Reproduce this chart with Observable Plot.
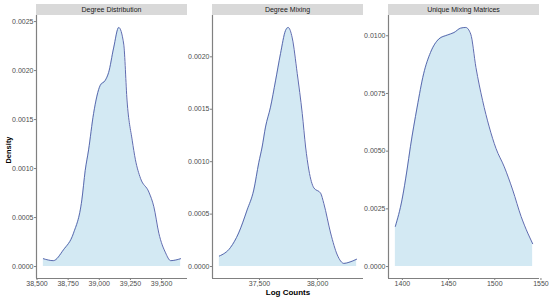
<!DOCTYPE html>
<html>
<head>
<meta charset="utf-8">
<script src="https://cdn.jsdelivr.net/npm/d3@7"></script>
<script src="https://cdn.jsdelivr.net/npm/@observablehq/plot@0.6"></script>
<style>
  html, body { margin: 0; padding: 0; background: #fff; }
  #chart { position: relative; width: 550px; height: 298px; font-family: "Liberation Sans", Arial, sans-serif; }
  .strip { position: absolute; top: 4px; height: 11px; background: #d9d9d9; font-size: 7px; line-height: 11px; text-align: center; color: #1a1a1a; }
  .panel { position: absolute; top: 0; }
  .ylab { position: absolute; left: 8px; top: 150px; transform: translate(-50%, -50%) rotate(-90deg); font-weight: bold; font-size: 7.5px; color: #000; white-space: nowrap; }
  .xlab { position: absolute; left: 288px; top: 288px; transform: translateX(-50%); font-weight: bold; font-size: 8px; color: #000; white-space: nowrap; }
</style>
</head>
<body>
<div id="chart"></div>
<script>
// Panel titles
const panelTitles = ["Degree Distribution", "Degree Mixing", "Unique Mixing Matrices"];

// Degree Distribution density curve
const ddX = [38551, 38631, 38712, 38793, 38860, 38887, 38914, 38954, 39008, 39048, 39075, 39115, 39156, 39196, 39223, 39264, 39290, 39331, 39398, 39438, 39478, 39532, 39573, 39653];
const ddY = [0.00008, 0.00006, 0.00017, 0.00034, 0.00068, 0.00098, 0.00119, 0.00156, 0.00185, 0.00190, 0.00198, 0.00223, 0.00244, 0.00227, 0.00169, 0.00129, 0.00109, 0.00090, 0.00076, 0.00061, 0.00034, 0.00014, 0.00006, 0.00008];

// Degree Mixing density curve
const dmX = [37155, 37250, 37321, 37394, 37451, 37494, 37523, 37552, 37595, 37638, 37681, 37724, 37747, 37782, 37825, 37868, 37897, 37925, 37968, 38026, 38054, 38112, 38170, 38227, 38270, 38336];
const dmY = [0.00010, 0.00018, 0.00032, 0.00054, 0.00073, 0.00099, 0.00114, 0.00133, 0.00152, 0.00177, 0.00203, 0.00225, 0.00228, 0.00218, 0.00184, 0.00146, 0.00114, 0.00092, 0.00075, 0.00070, 0.00060, 0.00032, 0.00011, 0.00003, 0.00004, 0.00007];

// Unique Mixing Matrices density curve
const umX = [1392.4, 1399.6, 1405, 1408.7, 1416, 1423, 1430.5, 1439.5, 1448.6, 1455.9, 1463, 1468.6, 1474, 1479.6, 1486.8, 1494, 1501.3, 1510.3, 1519.4, 1528.5, 1535.7, 1541];
const umY = [0.00174, 0.00289, 0.00418, 0.00519, 0.00691, 0.00835, 0.00928, 0.00986, 0.01003, 0.01014, 0.01033, 0.01036, 0.01007, 0.00863, 0.00720, 0.00605, 0.00512, 0.00432, 0.00332, 0.00217, 0.00145, 0.00099];

// Tick values
const ddXTicks = [38500, 38750, 39000, 39250, 39500];
const ddYTicks = [0, 0.0005, 0.0010, 0.0015, 0.0020, 0.0025];
const dmXTicks = [37500, 38000];
const dmYTicks = [0, 0.0005, 0.0010, 0.0015, 0.0020];
const umXTicks = [1400, 1450, 1500, 1550];
const umYTicks = [0, 0.0025, 0.0050, 0.0075, 0.0100];

const xLabel = "Log Counts";
const yLabel = "Density";

const chart = document.getElementById("chart");
const FILL = "#d3e9f3";
const STROKE = "#4c5aa6";
const AXIS = "#808080";

function expand(lo, hi, f) { const d = (hi - lo) * f; return [lo - d, hi + d]; }

function panel(cfg) {
  const data = cfg.xs.map((x, i) => ({x, y: cfg.ys[i]}));
  const xDom = expand(d3.min(cfg.xs), d3.max(cfg.xs), 0.05);
  const yMax = d3.max(cfg.ys);
  const yDom = [-yMax * 0.05, yMax * 1.05];
  const plotW = 151;
  const width = cfg.ml + plotW + cfg.mr;
  const p = Plot.plot({
    width, height: 298,
    marginLeft: cfg.ml, marginRight: cfg.mr, marginTop: 15, marginBottom: 20,
    style: {fontFamily: "Liberation Sans, Arial, sans-serif", fontSize: "7px", color: "#4d4d4d", background: "transparent", overflow: "visible"},
    x: {domain: xDom, ticks: cfg.xTicks, tickFormat: cfg.xFmt, label: null},
    y: {domain: yDom, ticks: cfg.yTicks, tickFormat: d3.format(".4f"), label: null},
    marks: [
      Plot.areaY(data, {x: "x", y: "y", fill: FILL, curve: "monotone-x"}),
      Plot.lineY(data, {x: "x", y: "y", stroke: STROKE, strokeWidth: 0.9, curve: "monotone-x"}),
      Plot.axisX({ticks: cfg.xTicks, tickFormat: cfg.xFmt, tickSize: 2, tickPadding: 1, stroke: AXIS, fill: "#4d4d4d", label: null}),
      Plot.axisY({ticks: cfg.yTicks, tickFormat: d3.format(".4f"), tickSize: 2, tickPadding: 1, stroke: AXIS, fill: "#4d4d4d", label: null}),
      Plot.ruleX([xDom[0]], {stroke: AXIS, strokeWidth: 1.2}),
      Plot.ruleY([yDom[0]], {stroke: AXIS, strokeWidth: 1.2})
    ]
  });
  p.classList.add("panel");
  p.style.left = (cfg.axisX - cfg.ml) + "px";
  chart.appendChild(p);
  const s = document.createElement("div");
  s.className = "strip";
  s.style.left = cfg.axisX + "px";
  s.style.width = plotW + "px";
  s.textContent = cfg.title;
  chart.appendChild(s);
}

panel({title: panelTitles[0], xs: ddX, ys: ddY, xTicks: ddXTicks, yTicks: ddYTicks, xFmt: d3.format(","), axisX: 36, ml: 36, mr: 3});
panel({title: panelTitles[1], xs: dmX, ys: dmY, xTicks: dmXTicks, yTicks: dmYTicks, xFmt: d3.format(","), axisX: 212, ml: 24, mr: 3});
panel({title: panelTitles[2], xs: umX, ys: umY, xTicks: umXTicks, yTicks: umYTicks, xFmt: d3.format("d"), axisX: 388, ml: 24, mr: 10});

const yl = document.createElement("div");
yl.className = "ylab"; yl.textContent = yLabel; chart.appendChild(yl);
const xl = document.createElement("div");
xl.className = "xlab"; xl.textContent = xLabel; chart.appendChild(xl);
</script>
</body>
</html>
